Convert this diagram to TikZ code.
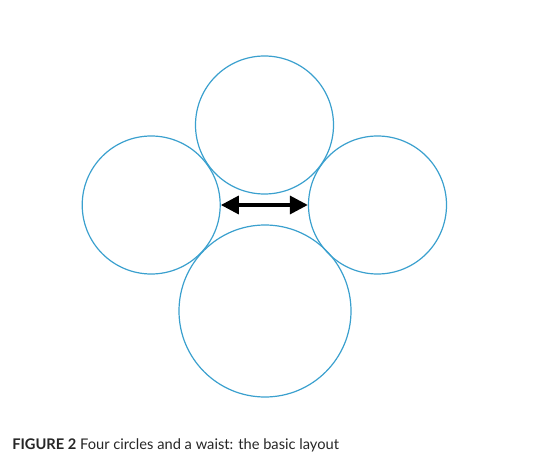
\documentclass[tikz,border=0pt]{standalone}
\usepackage{fontspec}
\setmainfont{Lato}
\usetikzlibrary{arrows.meta}
\definecolor{ringblue}{RGB}{58,160,206}
\begin{document}
\begin{tikzpicture}[x=0.75pt,y=-0.75pt,
  ring/.style={circle,draw=ringblue,line width=0.9pt,inner sep=0pt,minimum size=#1},
  waist/.style={line width=3pt,{Triangle[length=13.5pt,width=13.3pt]}-{Triangle[length=13.5pt,width=13.3pt]}}]
\useasboundingbox (0,0) rectangle (535,463);
\node[ring=103.5pt] (T) at (264.5,125) {};
\node[ring=103.5pt] (L) at (151.2,205) {};
\node[ring=103.5pt] (R) at (377.5,205) {};
\node[ring=129pt] (B) at (265,311) {};
\draw[waist] (L.east) -- (R.west);
\node[anchor=base west,inner sep=0pt,font=\fontsize{11}{13}\selectfont,text=black!85] (cap) at (12,449) {\textbf{FIGURE 2} Four circles and a waist: the basic layout};
\end{tikzpicture}
\end{document}
